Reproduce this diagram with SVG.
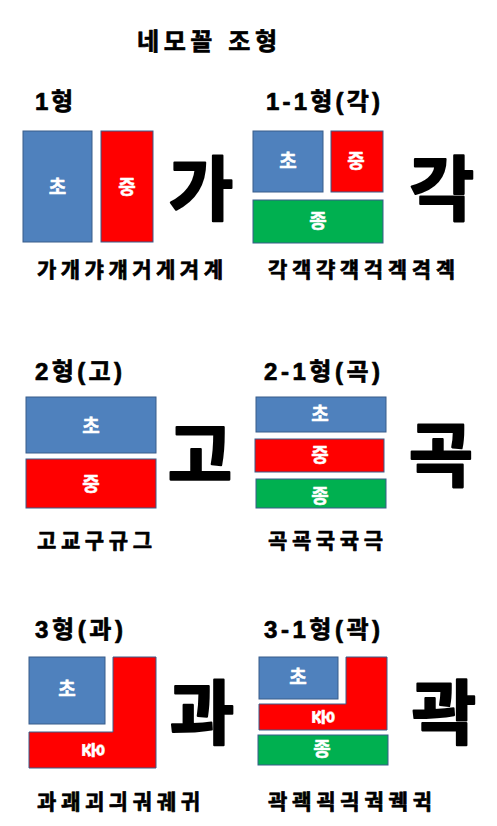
<svg xmlns="http://www.w3.org/2000/svg" width="497" height="826" viewBox="0 0 497 826">
<style>
text{font-family:"Liberation Sans","Noto Sans CJK KR",sans-serif;font-weight:bold;fill:#000;stroke:#000;stroke-width:0.7;stroke-linejoin:round}
.t{font-size:24px}
.big{font-size:70px;text-anchor:middle;stroke-width:2.2}
.row{font-size:21px}
.lb{font-size:19px;fill:#fff;stroke:#fff;stroke-width:0.5;text-anchor:middle}
.rot{font-size:24px}
.b{fill:#4F81BD;stroke:#385D8A;stroke-width:1}
.r{fill:#FF0000;stroke:#385D8A;stroke-width:1}
.g{fill:#00B050;stroke:#385D8A;stroke-width:1}
</style>
<rect width="497" height="826" fill="#fff"/>
<text id="title" class="t" x="137" y="50" textLength="140" lengthAdjust="spacing">네모꼴 조형</text>

<g id="type1">
<text class="t" x="35" y="110" textLength="38" lengthAdjust="spacing">1형</text>
<rect class="b" x="23" y="131" width="69" height="111"/>
<rect class="r" x="101" y="131" width="52" height="111"/>
<text class="lb" x="57.5" y="194">초</text>
<text class="lb" x="127" y="194">중</text>
<text class="big" x="201" y="215">가</text>
<text class="row" x="37" y="277" textLength="186" lengthAdjust="spacing">가개갸걔거게겨계</text>
</g>

<g id="type1-1">
<text class="t" x="266" y="110" textLength="114" lengthAdjust="spacing">1-1형(각)</text>
<rect class="b" x="253" y="131" width="70" height="61"/>
<rect class="r" x="331" y="131" width="52" height="61"/>
<rect class="g" x="253" y="200" width="130" height="43"/>
<text class="lb" x="288" y="168">초</text>
<text class="lb" x="356" y="168">중</text>
<text class="lb" x="318" y="228">종</text>
<text class="big" x="442" y="215">각</text>
<text class="row" x="268" y="277" textLength="187" lengthAdjust="spacing">각객갹걕걱겍격곅</text>
</g>

<g id="type2">
<text class="t" x="35" y="380" textLength="87" lengthAdjust="spacing">2형(고)</text>
<rect class="b" x="26" y="397" width="130" height="56"/>
<rect class="r" x="26" y="459" width="130" height="49"/>
<text class="lb" x="91" y="433">초</text>
<text class="lb" x="91" y="491">중</text>
<text class="big" x="200" y="481">고</text>
<text class="row" x="37" y="548" textLength="115" lengthAdjust="spacing">고교구규그</text>
</g>

<g id="type2-1">
<text class="t" x="264" y="380" textLength="116" lengthAdjust="spacing">2-1형(곡)</text>
<rect class="b" x="256" y="397" width="130" height="35"/>
<rect class="r" x="255" y="439" width="129" height="33"/>
<rect class="g" x="256" y="479" width="130" height="29"/>
<text class="lb" x="320" y="421">초</text>
<text class="lb" x="320" y="462">중</text>
<text class="lb" x="320" y="503">종</text>
<text class="big" x="441" y="481">곡</text>
<text class="row" x="268" y="548" textLength="115" lengthAdjust="spacing">곡굑국귝극</text>
</g>

<g id="type3">
<text class="t" x="35" y="638" textLength="88" lengthAdjust="spacing">3형(과)</text>
<rect class="b" x="29" y="657" width="76" height="67"/>
<path class="r" d="M113,657 H156 V768 H29 V732 H113 Z"/>
<text class="lb" x="67" y="696">초</text>
<text class="lb rot" transform="translate(93,750) rotate(-90) scale(0.7,1)" x="0" y="8.5">중</text>
<text class="big" x="202" y="739">과</text>
<text class="row" x="37" y="809" textLength="163" lengthAdjust="spacing">과괘괴긔궈궤귀</text>
</g>

<g id="type3-1">
<text class="t" x="264" y="638" textLength="116" lengthAdjust="spacing">3-1형(곽)</text>
<rect class="b" x="259" y="657" width="79" height="42"/>
<path class="r" d="M346,657 H387 V730 H259 V704 H346 Z"/>
<rect class="g" x="258" y="735" width="130" height="30"/>
<text class="lb" x="298" y="684">초</text>
<text class="lb rot" transform="translate(323,717) rotate(-90) scale(0.7,1)" x="0" y="8.5">중</text>
<text class="lb" x="322" y="756">종</text>
<text class="big" x="444" y="739">곽</text>
<text class="row" x="268" y="809" textLength="164" lengthAdjust="spacing">곽괙괵긕궉궥귁</text>
</g>
<g id="connectors"/>
</svg>
